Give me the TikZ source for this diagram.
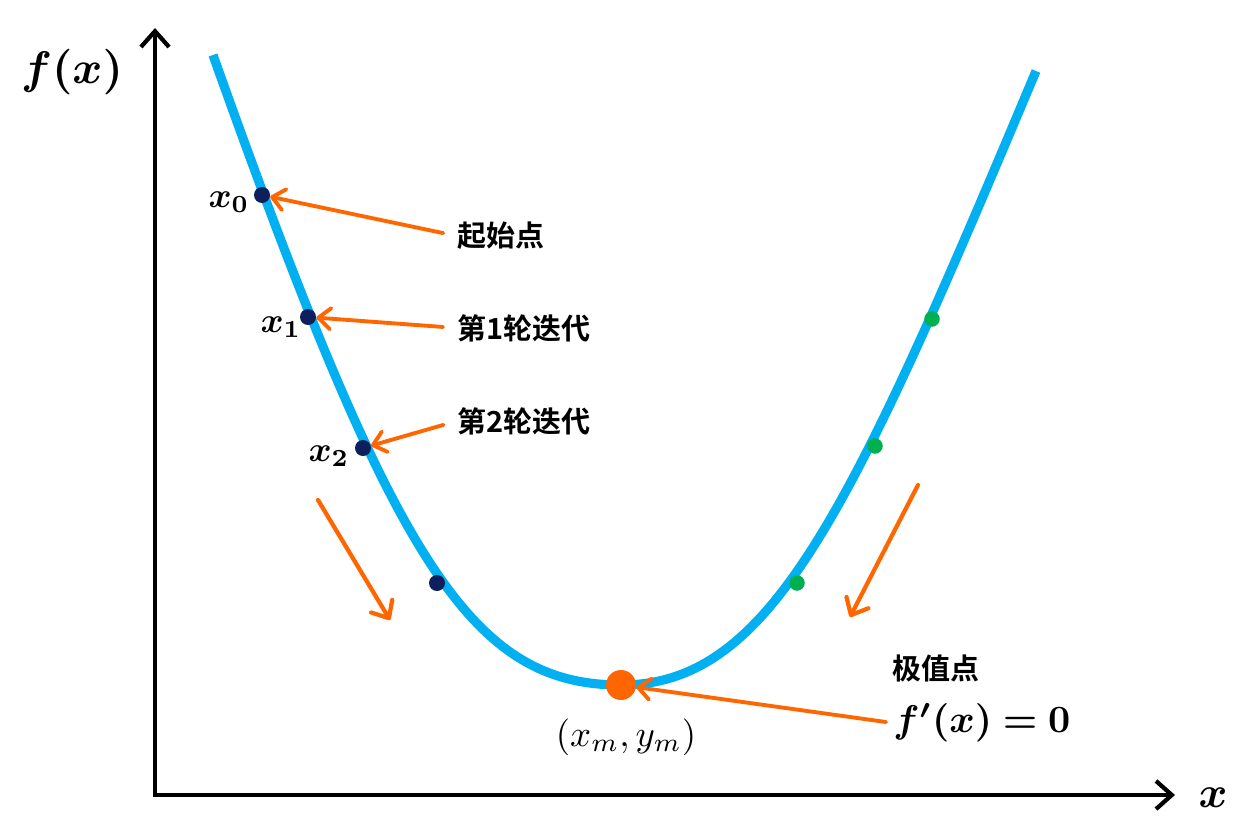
\documentclass[tikz,border=0pt]{standalone}
\usepackage{fontspec}
\usepackage{graphicx}
\usepackage{amsmath}
\usepackage{bm}
\newfontfamily\cjk{Noto Sans CJK SC}[BoldFont={Noto Sans CJK SC Bold}]
\usetikzlibrary{arrows.meta}
\definecolor{curveblue}{HTML}{00B0F0}
\definecolor{arrorange}{HTML}{FF6600}
\definecolor{dotnavy}{HTML}{0D1F5C}
\definecolor{dotgreen}{HTML}{00B050}
\begin{document}
\begin{tikzpicture}[x=0.02cm,y=-0.02cm,
  axis/.style={line width=2.4pt,-{Straight Barb[length=9pt,width=16pt,line width=2.4pt]}},
  curvestyle/.style={curveblue,line width=5.2pt},
  navydot/.style={circle,fill=dotnavy,inner sep=0pt,minimum size=0.32cm},
  greendot/.style={circle,fill=dotgreen,inner sep=0pt,minimum size=0.31cm},
  bigdot/.style={circle,fill=arrorange,inner sep=0pt,minimum size=0.6cm},
  pointer/.style={arrorange,line width=2.2pt,line cap=round,-{Straight Barb[length=7pt,width=12pt,line width=2.2pt,round]}},
  trend/.style={arrorange,line width=2.4pt,line cap=round,-{Straight Barb[length=8pt,width=14pt,line width=2.4pt,round]}},
  cjklabel/.style={font=\cjk\bfseries\fontsize{16.5pt}{18pt}\selectfont,inner sep=0pt,anchor=west},
  mathlabel/.style={inner sep=0pt}
]
\useasboundingbox (0,0) rectangle (1251,832);
% axes
\coordinate (ytop) at (155,28);
\coordinate (xend) at (1175,795);
\draw[axis] (155,797) -- (ytop);
\draw[axis] (153,795) -- (xend);
\node[mathlabel] (fx) at (72,72) {\scalebox{2.6}{$\bm{f(x)}$}};
\node[mathlabel] (xl) at (1213,798) {\scalebox{2.5}{$\bm{x}$}};
% curve
\draw[curvestyle] (213,55) .. controls (394,564) and (471,685) .. (621,685)
  .. controls (771,685) and (850,514) .. (1036,71);
% dots
\node[navydot] (d0) at (262,195) {};
\node[navydot] (d1) at (308,317) {};
\node[navydot] (d2) at (363,448) {};
\node[navydot] (d3) at (437,583) {};
\node[greendot] (g1) at (932,319) {};
\node[greendot] (g2) at (875,446) {};
\node[greendot] (g3) at (797,583) {};
\node[bigdot] (m) at (621,685) {};
% point labels
\node[mathlabel] (lx0) at (229,202) {\scalebox{2.0}{$\bm{x_0}$}};
\node[mathlabel] (lx1) at (281,327) {\scalebox{2.0}{$\bm{x_1}$}};
\node[mathlabel] (lx2) at (329,456) {\scalebox{2.0}{$\bm{x_2}$}};
\node[mathlabel] (lm) at (626,737) {\scalebox{2.1}{$(x_m,y_m)$}};
% text labels
\node[cjklabel] (t0) at (457,236) {起始点};
\node[cjklabel] (t1) at (457,328) {第1轮迭代};
\node[cjklabel] (t2) at (457,421) {第2轮迭代};
\node[cjklabel,anchor=center] (t3) at (936,668) {极值点};
\node[mathlabel,anchor=west] (t4) at (893,723) {\scalebox{2.2}{$\bm{f'(x)=0}$}};
% pointers
\draw[pointer,shorten <=8pt] (t0.west) -- (d0);
\draw[pointer,shorten <=8pt] (t1.west) -- (d1);
\draw[pointer,shorten <=8pt] (t2.west) -- (d2);
\draw[pointer,shorten <=4pt] (t4.west) -- (m);
% trend arrows
\coordinate (a1s) at (318,500);
\coordinate (a1e) at (390,620);
\coordinate (a2s) at (918,485);
\coordinate (a2e) at (850,617);
\draw[trend] (a1s) -- (a1e);
\draw[trend] (a2s) -- (a2e);
\end{tikzpicture}
\end{document}
